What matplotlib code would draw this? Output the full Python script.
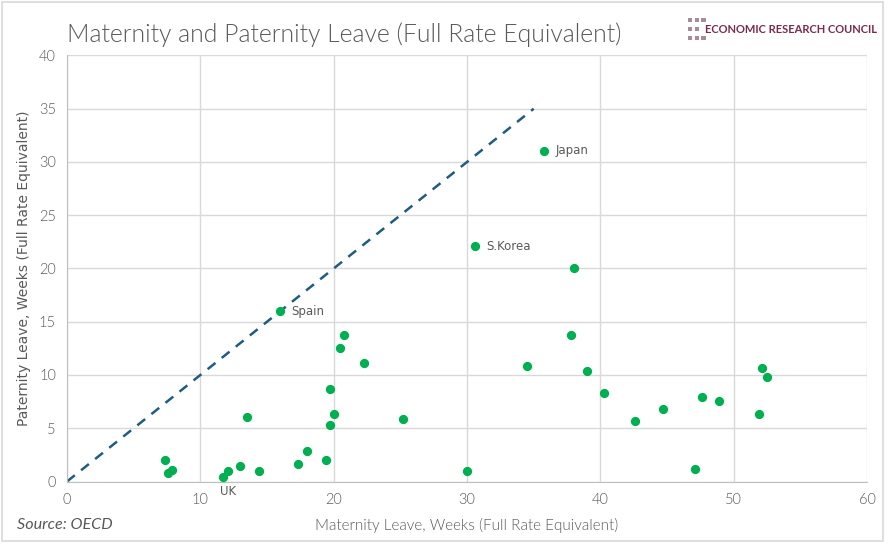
import matplotlib
matplotlib.use('Agg')
import matplotlib.pyplot as plt
from matplotlib.patches import Rectangle

# ── Data ──────────────────────────────────────────────────────────────
maternity = [35.8, 30.6, 38.0, 37.8, 34.5, 39.0, 40.3, 42.6, 44.7, 47.6,
             48.9, 52.1, 52.5, 51.9, 47.1, 30.0,
             16.0, 20.8, 20.45, 22.3, 19.75, 13.5, 20.05, 19.75, 25.2,
             7.37, 7.6, 7.85, 11.7, 12.05, 13.0, 14.43, 17.35, 18.0, 19.45]
paternity = [31.05, 22.1, 20.0, 13.8, 10.8, 10.4, 8.3, 5.65, 6.8, 7.9,
             7.6, 10.7, 9.8, 6.3, 1.15, 0.96,
             16.0, 13.8, 12.5, 11.1, 8.65, 6.1, 6.3, 5.3, 5.9,
             1.99, 0.77, 1.05, 0.39, 0.96, 1.43, 0.96, 1.6, 2.83, 1.99]

labelled = {'Japan': (35.8, 31.05), 'S.Korea': (30.6, 22.1),
            'Spain': (16.0, 16.0)}
uk = (11.7, 0.39)

parity_x = [0, 35]
parity_y = [0, 35]

# ── Style ─────────────────────────────────────────────────────────────
GREEN = '#00b050'
NAVY = '#1f5c7f'
GREY = '#595959'
GRID = '#d9d9d9'
MAROON = '#7a2a4a'
MAUVE = '#a88b98'
NARROW = ['Lato', 'DejaVu Sans']

fig = plt.figure(figsize=(8.9, 5.45), dpi=100)
fig.patch.set_facecolor('white')

# chart border
fig.add_artist(Rectangle((2 / 890, 4 / 545), 881 / 890, 539 / 545,
                         transform=fig.transFigure, fill=False,
                         edgecolor='#d9d9d9', lw=1.2))

ax = fig.add_axes([67 / 890, 63.5 / 545, 800 / 890, 426 / 545])
ax.set_xlim(0, 60)
ax.set_ylim(0, 40)
ax.set_xticks(range(0, 61, 10))
ax.set_yticks(range(0, 41, 5))
ax.grid(True, color=GRID, lw=1)
ax.set_axisbelow(True)
for s in ('top', 'right'):
    ax.spines[s].set_visible(False)
for s in ('left', 'bottom'):
    ax.spines[s].set_color('#bfbfbf')
ax.tick_params(length=0, colors=GREY, labelsize=10.5, pad=8)
for lab in ax.get_xticklabels() + ax.get_yticklabels():
    lab.set_family(NARROW)
    lab.set_weight(300)

ax.plot(parity_x, parity_y, color=NAVY, lw=1.8, ls=(0, (4, 3.2)), zorder=2)
ax.scatter(maternity, paternity, s=32, color=GREEN, zorder=3, clip_on=False)

for name, (x, y) in labelled.items():
    ax.annotate(name, (x, y), xytext=(8, 0), textcoords='offset points',
                va='center', ha='left', color=GREY, fontsize=8.5)
ax.annotate('UK', uk, xytext=(-2, -10), textcoords='offset points',
            va='center', ha='left', color=GREY, fontsize=8.5)

ax.set_xlabel('Maternity Leave, Weeks (Full Rate Equivalent)', color=GREY,
              fontsize=11, family=NARROW, weight=300, labelpad=8)
ax.set_ylabel('Paternity Leave, Weeks (Full Rate Equivalent)', color=GREY,
              fontsize=10, labelpad=6)

fig.text(67 / 890, 1 - 35 / 545, 'Maternity and Paternity Leave (Full Rate Equivalent)',
         color=GREY, fontsize=17.8, family=NARROW, weight=300,
         va='center', ha='left')
fig.text(17 / 890, 1 - 525 / 545, 'Source: OECD', color=GREY, fontsize=11.6,
         style='italic', family=NARROW, va='center', ha='left')

# logo
for r in range(3):
    for c in range(3):
        if r == 1 and c == 2:
            continue
        fig.add_artist(Rectangle(((688 + c * 6.6) / 890, 1 - (22.3 + r * 8.8) / 545),
                                 4.4 / 890, 4.3 / 545, transform=fig.transFigure,
                                 color=MAUVE, lw=0))
fig.text(705 / 890, 1 - 29.5 / 545, 'ECONOMIC RESEARCH COUNCIL', color=MAROON,
         fontsize=8.0, family=NARROW, weight='bold', va='center', ha='left')

fig.savefig('out.png', dpi=100, facecolor='white')
